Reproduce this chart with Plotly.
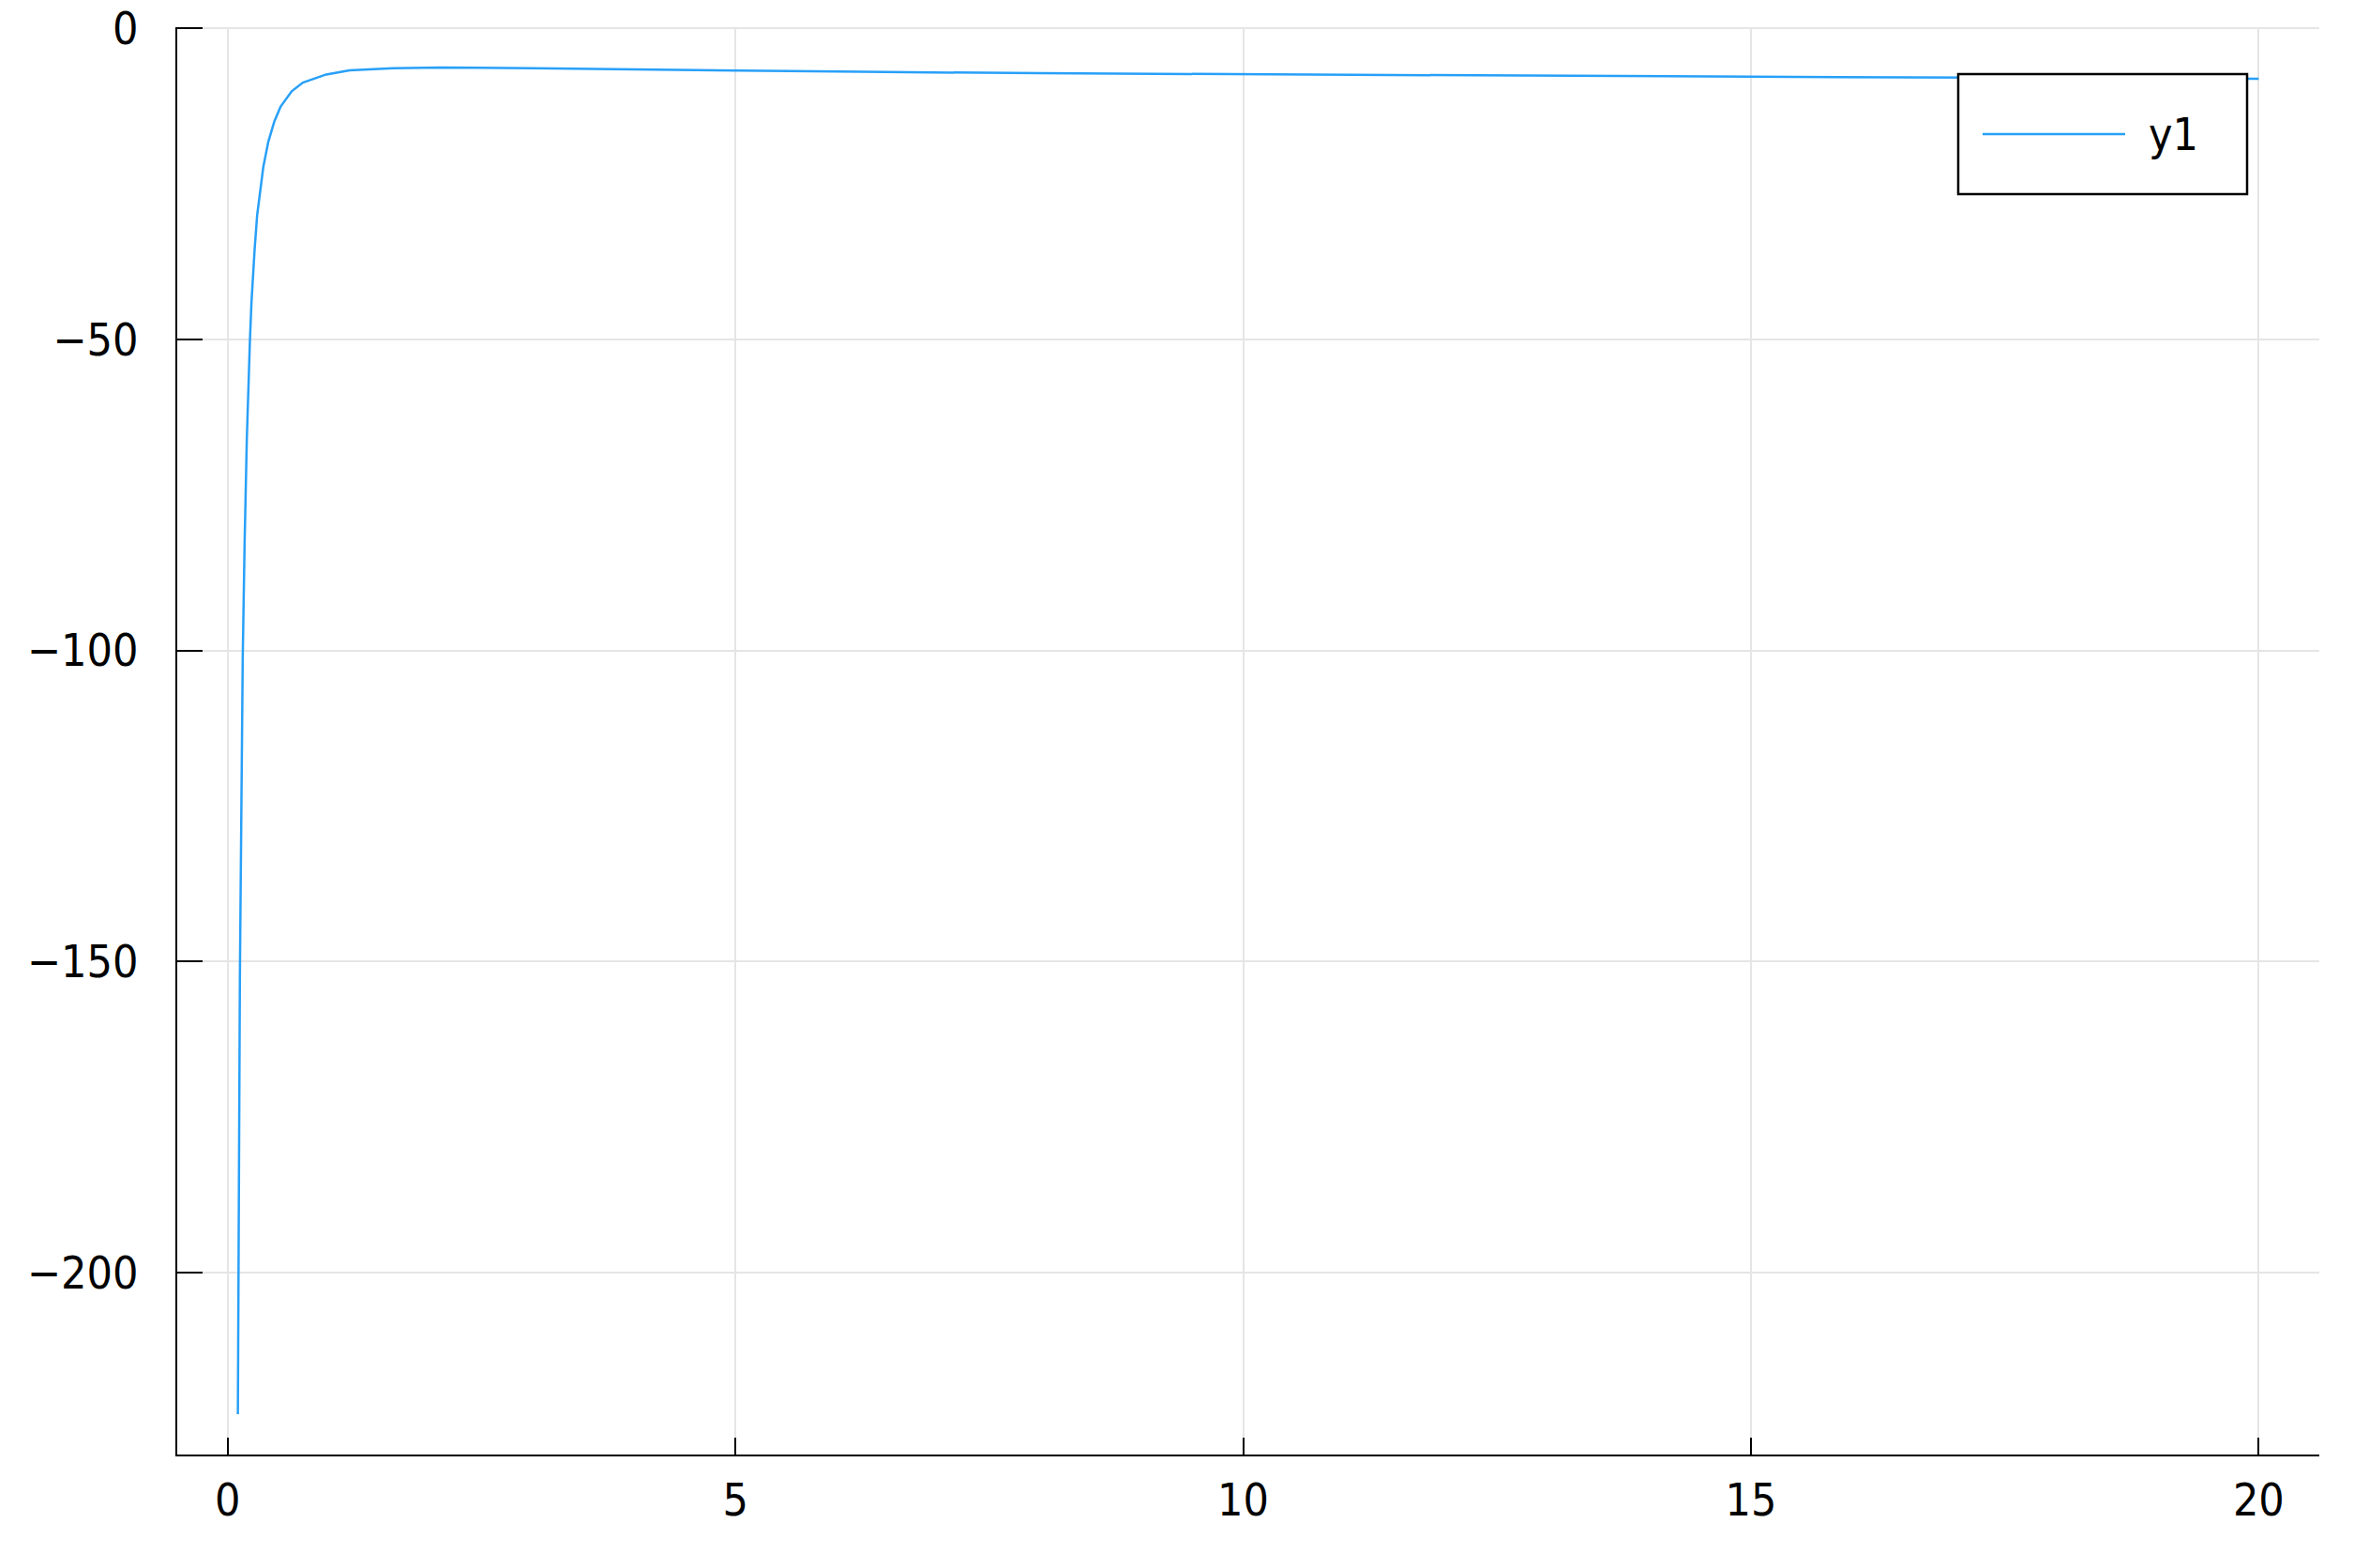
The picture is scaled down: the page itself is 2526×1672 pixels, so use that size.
import plotly.graph_objects as go

# values
x_vals = [0.10, 0.105, 0.111, 0.12, 0.132, 0.148, 0.166, 0.188, 0.219, 0.234,
          0.265, 0.29, 0.35, 0.40, 0.46, 0.52, 0.63, 0.74, 0.97, 1.20,
          1.63, 2.1, 3.0, 5.0, 6.25, 8.0, 10.0, 11.05, 13.0, 15.0,
          15.85, 18.0, 20.0]
y_vals = [-222.8, -200, -177, -152, -130, -101, -83, -66, -50, -44,
          -35.5, -30, -22.3, -18.2, -14.9, -12.6, -10.1, -8.7, -7.4, -6.75,
          -6.4, -6.27, -6.4, -6.78, -6.98, -7.2, -7.38, -7.48, -7.62, -7.73,
          -7.83, -7.95, -8.08]
series_name = "y1"

x_ticks = [0, 5, 10, 15, 20]
y_ticks = [0, -50, -100, -150, -200]
y_tick_text = ["0", "\u221250", "\u2212100", "\u2212150", "\u2212200"]

# figure fills the whole window (body margin removed below)
W, H = 2526, 1672
L, T = 189, 29
R, B = W - 2473, H - 1551
line_color = "rgb(40,160,248)"
font_family = "DejaVu Sans Condensed, DejaVu Sans, sans-serif"


def px(xp):
    return (xp - L) / (W - L - R)


def py(yp):
    return 1 - (yp - T) / (H - T - B)


fig = go.Figure()
fig.add_trace(go.Scatter(x=x_vals, y=y_vals, mode="lines", name=series_name,
                         line=dict(color=line_color, width=2.5), showlegend=False))

fig.update_xaxes(range=[-0.497, 20.597], tickvals=x_ticks, ticks="inside", ticklen=18,
                 tickwidth=2, tickcolor="black", showline=True, linecolor="black",
                 linewidth=2, gridcolor="rgb(229,229,229)", gridwidth=2,
                 zeroline=False, ticklabelstandoff=5, automargin=False,
                 ticklabeloverflow="allow",
                 tickfont=dict(family=font_family, size=48, color="black"))
fig.update_yaxes(range=[-229.3, 0.2], tickvals=y_ticks, ticktext=y_tick_text,
                 ticks="inside", ticklen=27, tickwidth=2, tickcolor="black",
                 showline=True, linecolor="black", linewidth=2,
                 gridcolor="rgb(229,229,229)", gridwidth=2, zeroline=False,
                 ticklabelstandoff=30, automargin=False, ticklabeloverflow="allow",
                 tickfont=dict(family=font_family, size=48, color="black"))

# legend box drawn like the reference
fig.add_shape(type="rect", xref="paper", yref="paper",
              x0=px(2088), x1=px(2396), y0=py(207), y1=py(79),
              line=dict(color="black", width=2.5), fillcolor="white", layer="above")
fig.add_shape(type="line", xref="paper", yref="paper",
              x0=px(2114), x1=px(2266), y0=py(143), y1=py(143),
              line=dict(color=line_color, width=2.5), layer="above")
fig.add_annotation(text=series_name, xref="paper", yref="paper", x=px(2289), y=py(143),
                   xanchor="left", yanchor="middle", showarrow=False,
                   font=dict(family=font_family, size=48, color="black"))

fig.update_layout(width=W, height=H, margin=dict(l=L, r=R, t=T, b=B, autoexpand=False),
                  plot_bgcolor="white", paper_bgcolor="white")

fig.write_html("out.html", config={"displayModeBar": False},
               post_script="document.body.style.margin='0';document.body.style.overflow='hidden';")
